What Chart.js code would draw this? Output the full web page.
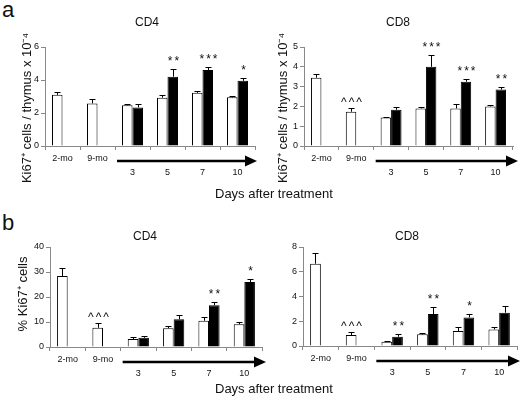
<!DOCTYPE html>
<html>
<head>
<meta charset="utf-8">
<script src="https://cdn.jsdelivr.net/npm/chart.js@4/dist/chart.umd.min.js"></script>
<style>
  body { margin: 0; background: #fff; }
  #fig { position: relative; width: 520px; height: 397px; overflow: hidden; font-family: "Liberation Sans", Arial, sans-serif; color: #111; }
  canvas { position: absolute; }
  .txt { position: absolute; white-space: nowrap; line-height: 1; }
  .letter { font-size: 22px; }
  .days { font-size: 13px; }
</style>
</head>
<body>
<div id="fig">
  <div class="txt letter" style="left:2px;top:-1px;">a</div>
  <div class="txt letter" style="left:2px;top:212px;">b</div>
  <canvas id="c-a4" width="265" height="185" style="left:0;top:0;"></canvas>
  <canvas id="c-a8" width="258" height="185" style="left:262px;top:0;"></canvas>
  <canvas id="c-b4" width="268" height="185" style="left:0;top:200px;"></canvas>
  <canvas id="c-b8" width="258" height="185" style="left:262px;top:200px;"></canvas>
  <div class="txt days" style="left:215px;top:187px;">Days after treatment</div>
  <div class="txt days" style="left:215px;top:382px;">Days after treatment</div>
</div>

<script>
/* ---- datos ---- */
const ageLabels = ["2-mo", "9-mo"];
const dayLabels = ["3", "5", "7", "10"];

// a) Ki67+ cells / thymus x 10^-4, CD4
const aCd4Ctrl     = [3.1, 2.58, 2.47, 2.93, 3.22, 2.95];
const aCd4CtrlErr  = [0.15, 0.25, 0.07, 0.17, 0.12, 0.1];
const aCd4Trt      = [null, null, 2.34, 4.2, 4.6, 3.95];
const aCd4TrtErr   = [null, null, 0.2, 0.45, 0.18, 0.17];
const aCd4CtrlMark = ["", "", "", "", "", ""];
const aCd4TrtMark  = ["", "", "", "**", "***", "*"];

// a) CD8
const aCd8Ctrl     = [3.45, 1.73, 1.44, 1.9, 1.9, 2.0];
const aCd8CtrlErr  = [0.2, 0.17, 0.04, 0.05, 0.2, 0.07];
const aCd8Trt      = [null, null, 1.83, 4.0, 3.25, 2.85];
const aCd8TrtErr   = [null, null, 0.16, 0.62, 0.15, 0.14];
const aCd8CtrlMark = ["", "^^^", "", "", "", ""];
const aCd8TrtMark  = ["", "", "", "***", "***", "**"];

// b) % Ki67+ cells, CD4
const bCd4Ctrl     = [28.4, 7.7, 3.2, 7.5, 10.5, 9.1];
const bCd4CtrlErr  = [3.2, 2.0, 0.7, 0.9, 1.4, 1.0];
const bCd4Trt      = [null, null, 3.7, 11.1, 16.7, 26.0];
const bCd4TrtErr   = [null, null, 0.7, 1.6, 1.2, 1.4];
const bCd4CtrlMark = ["", "^^^", "", "", "", ""];
const bCd4TrtMark  = ["", "", "", "", "**", "*"];

// b) CD8
const bCd8Ctrl     = [6.65, 0.89, 0.35, 0.94, 1.21, 1.34];
const bCd8CtrlErr  = [0.85, 0.26, 0.05, 0.08, 0.35, 0.22];
const bCd8Trt      = [null, null, 0.75, 2.58, 2.31, 2.69];
const bCd8TrtErr   = [null, null, 0.19, 0.59, 0.27, 0.54];
const bCd8CtrlMark = ["", "^^^", "", "", "", ""];
const bCd8TrtMark  = ["", "", "**", "**", "*", ""];

const FONT = '"Liberation Sans", Arial, sans-serif';
Chart.defaults.font.family = FONT;
Chart.defaults.color = "#111";

/* etiquetas en dos renglones: edades arriba, días debajo de la flecha */
function buildLabels() {
    return [
        ...ageLabels.map(l => [l, ""]),
        ...dayLabels.map(d => ["", d])
    ];
}

/* Barras de error (solo +) y marcas de significancia */
const errorBarsPlugin = {
    id: "errorBars",
    afterDatasetsDraw(chart) {
        const ctx = chart.ctx;
        const ys = chart.scales.y;
        chart.data.datasets.forEach((ds, i) => {
            const meta = chart.getDatasetMeta(i);
            meta.data.forEach((bar, j) => {
                const v = ds.data[j];
                if (v == null) return;
                const e = ds.errors[j] || 0;
                const x = Math.round(bar.x) + 0.5;
                const yTop = Math.round(ys.getPixelForValue(v + e)) + 0.5;
                ctx.save();
                ctx.strokeStyle = "#000";
                ctx.lineWidth = 1;
                ctx.beginPath();
                ctx.moveTo(x, bar.y);
                ctx.lineTo(x, yTop);
                ctx.moveTo(x - 3, yTop);
                ctx.lineTo(x + 3, yTop);
                ctx.stroke();
                const mark = ds.marks[j];
                if (mark) {
                    const sp = 2;
                    ctx.fillStyle = "#111";
                    ctx.font = "12px " + FONT;
                    ctx.letterSpacing = sp + "px";
                    ctx.textAlign = "center";
                    ctx.textBaseline = "alphabetic";
                    ctx.fillText(mark, x + sp / 2, yTop - (mark[0] === "^" ? 3 : 5));
                }
                ctx.restore();
            });
        });
    }
};

/* Título, título del eje Y y flecha de días */
const decorPlugin = {
    id: "decor",
    afterDraw(chart, args, opts) {
        const ctx = chart.ctx;
        const xs = chart.scales.x;
        ctx.save();
        ctx.fillStyle = "#111";

        if (opts.title) {
            ctx.font = "12px " + FONT;
            ctx.textAlign = "center";
            ctx.textBaseline = "middle";
            ctx.fillText(opts.title.text, opts.title.x, opts.title.y);
        }

        if (opts.yTitle) {
            ctx.save();
            ctx.translate(opts.yTitle.x, opts.yTitle.y);
            ctx.rotate(-Math.PI / 2);
            ctx.font = "13px " + FONT;
            ctx.textAlign = "center";
            ctx.textBaseline = "middle";
            ctx.fillText(opts.yTitle.text, 0, 0);
            ctx.restore();
        }

        // flecha desde el primer día hasta el final del eje
        const catW = (xs.right - xs.left) / chart.data.labels.length;
        const x0 = xs.getPixelForValue(ageLabels.length) - catW / 2 + 2;
        const x1 = xs.right + opts.arrowOver;
        const y = xs.top + 15;
        ctx.strokeStyle = "#000";
        ctx.lineWidth = 2.5;
        ctx.beginPath();
        ctx.moveTo(x0, y);
        ctx.lineTo(x1 - 10, y);
        ctx.stroke();
        ctx.fillStyle = "#000";
        ctx.beginPath();
        ctx.moveTo(x1, y);
        ctx.lineTo(x1 - 12, y - 5.5);
        ctx.lineTo(x1 - 12, y + 5.5);
        ctx.closePath();
        ctx.fill();
        ctx.restore();
    }
};

function makePanel(id, cfg) {
    const ctx = document.getElementById(id);
    return new Chart(ctx, {
        type: "bar",
        data: {
            labels: buildLabels(),
            datasets: [
                {
                    label: "Control",
                    data: cfg.ctrl,
                    errors: cfg.ctrlErr,
                    marks: cfg.ctrlMark,
                    backgroundColor: "#fff",
                    borderColor: "#000",
                    borderWidth: 1
                },
                {
                    label: "Tratado",
                    data: cfg.trt,
                    errors: cfg.trtErr,
                    marks: cfg.trtMark,
                    backgroundColor: "#000",
                    borderColor: "#000",
                    borderWidth: 1
                }
            ]
        },
        options: {
            responsive: false,
            animation: false,
            categoryPercentage: 0.6,
            barPercentage: 1.0,
            layout: { padding: { top: cfg.padTop, right: cfg.padRight, left: 0, bottom: 0 } },
            plugins: {
                legend: { display: false },
                tooltip: { enabled: false },
                decor: { title: cfg.title, yTitle: cfg.yTitle, arrowOver: cfg.arrowOver }
            },
            scales: {
                x: {
                    afterFit: s => { s.height = cfg.xH; },
                    grid: { drawOnChartArea: false, tickLength: 4, color: "#888", offset: true },
                    border: { color: "#888" },
                    ticks: {
                        padding: 2,
                        color: "#111",
                        font: { size: 9, lineHeight: 14 / 9 },
                        maxRotation: 0,
                        autoSkip: false
                    }
                },
                y: {
                    min: 0,
                    max: cfg.yMax,
                    afterFit: s => { s.width = cfg.yW; },
                    grid: { drawOnChartArea: false, tickLength: 4, color: "#888" },
                    border: { color: "#888" },
                    ticks: { stepSize: cfg.yStep, padding: 2, color: "#111", font: { size: 9 } }
                }
            }
        },
        plugins: [errorBarsPlugin, decorPlugin]
    });
}

makePanel("c-a4", {
    ctrl: aCd4Ctrl, ctrlErr: aCd4CtrlErr, ctrlMark: aCd4CtrlMark,
    trt: aCd4Trt, trtErr: aCd4TrtErr, trtMark: aCd4TrtMark,
    yMax: 6, yStep: 2, yW: 45, xH: 39, padTop: 47, padRight: 10, arrowOver: 2,
    title: { text: "CD4", x: 147, y: 23 },
    yTitle: { text: "Ki67\u207A cells / thymus x 10\u207B\u2074", x: 27, y: 108 }
});

makePanel("c-a8", {
    ctrl: aCd8Ctrl, ctrlErr: aCd8CtrlErr, ctrlMark: aCd8CtrlMark,
    trt: aCd8Trt, trtErr: aCd8TrtErr, trtMark: aCd8TrtMark,
    yMax: 5, yStep: 1, yW: 42, xH: 39, padTop: 47, padRight: 7, arrowOver: 5,
    title: { text: "CD8", x: 136, y: 23 },
    yTitle: { text: "Ki67\u207A cells / thymus x 10\u207B\u2074", x: 21, y: 108 }
});

makePanel("c-b4", {
    ctrl: bCd4Ctrl, ctrlErr: bCd4CtrlErr, ctrlMark: bCd4CtrlMark,
    trt: bCd4Trt, trtErr: bCd4TrtErr, trtMark: bCd4TrtMark,
    yMax: 40, yStep: 10, yW: 50, xH: 38, padTop: 47, padRight: 6, arrowOver: 4,
    title: { text: "CD4", x: 145, y: 37 },
    yTitle: { text: "% Ki67\u207A cells", x: 23, y: 94 }
});

makePanel("c-b8", {
    ctrl: bCd8Ctrl, ctrlErr: bCd8CtrlErr, ctrlMark: bCd8CtrlMark,
    trt: bCd8Trt, trtErr: bCd8TrtErr, trtMark: bCd8TrtMark,
    yMax: 8, yStep: 2, yW: 41, xH: 39, padTop: 47, padRight: 3, arrowOver: 3,
    title: { text: "CD8", x: 145, y: 37 },
    yTitle: null
});
</script>
</body>
</html>
